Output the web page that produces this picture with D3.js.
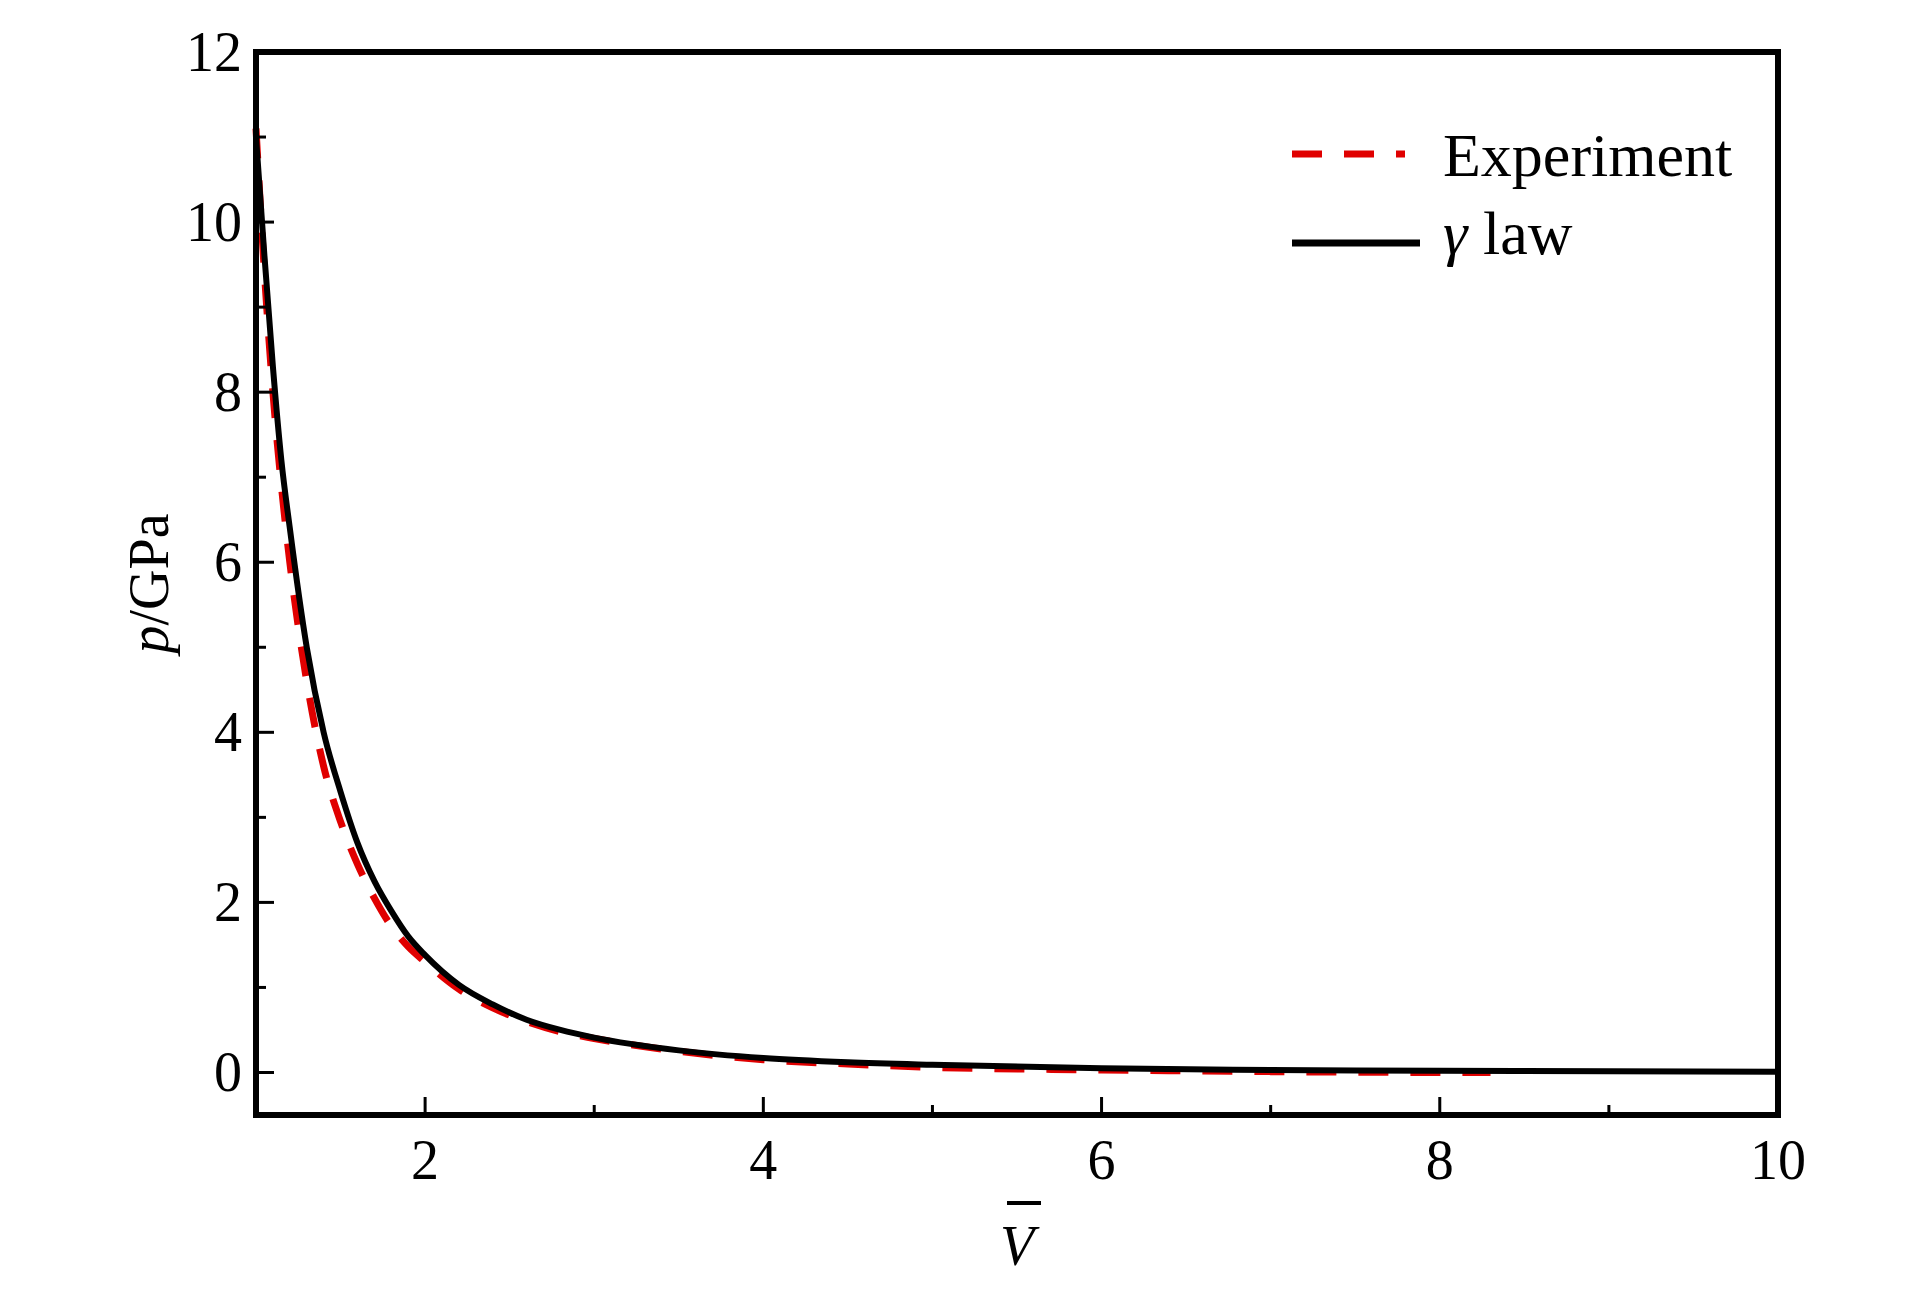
<!DOCTYPE html><html><head><script src="https://cdn.jsdelivr.net/npm/d3@7"></script>
<style>body{margin:0;background:#fff}text{font-family:"Liberation Serif","DejaVu Serif",serif}</style></head><body>
<svg id="c" width="1923" height="1299"></svg>
<script>
const gammaV=[1.0,1.05,1.1,1.15,1.2,1.3,1.4,1.5,1.6,1.7,1.8,1.9,2.0,2.2,2.4,2.6,2.8,3.0,3.5,4,4.5,5,6,7,8,9,10];
const gammaP=[11.0,9.6,8.3,7.2,6.4,5.0,4.0,3.3,2.7,2.25,1.9,1.6,1.38,1.03,0.8,0.62,0.5,0.41,0.26,0.17,0.12,0.09,0.05,0.03,0.02,0.015,0.01];
const expV=[1.0,1.05,1.1,1.15,1.2,1.3,1.4,1.5,1.6,1.7,1.8,1.9,2.0,2.2,2.4,2.6,2.8,3.0,3.5,4,4.5,5,6,7,8,8.3];
const expP=[11.1,9.4,8.0,6.9,6.0,4.6,3.6,2.95,2.45,2.05,1.72,1.48,1.3,0.98,0.76,0.6,0.48,0.4,0.25,0.15,0.1,0.06,0.03,0.01,0.0,0.0];
const xTicks=[2,4,6,8,10], xMinor=[3,5,7,9], yTicks=[0,2,4,6,8,10,12], yMinor=[1,3,5,7,9,11];
const L=256,R=1778,T=52,B=1115;
const svg=d3.select("#c");
const x=d3.scaleLinear().domain([1,10]).range([L,R]);
const y=d3.scaleLinear().domain([-0.5,12]).range([B,T]);
const fs=56;
const g=svg.append("g");
const line=d3.line().x(d=>x(d[0])).y(d=>y(d[1])).curve(d3.curveMonotoneX);
g.append("path").attr("d",line(expV.map((v,i)=>[v,expP[i]]))).attr("fill","none").attr("stroke","#e00000").attr("stroke-width",7).attr("stroke-dasharray","30,22");
g.append("path").attr("d",line(gammaV.map((v,i)=>[v,gammaP[i]]))).attr("fill","none").attr("stroke","#000").attr("stroke-width",6);
xTicks.forEach(t=>{svg.append("line").attr("x1",x(t)).attr("x2",x(t)).attr("y1",B).attr("y2",B-18).attr("stroke","#000").attr("stroke-width",3);
 svg.append("text").attr("x",x(t)).attr("y",B+64).attr("text-anchor","middle").attr("font-size",fs).text(t);});
xMinor.forEach(t=>svg.append("line").attr("x1",x(t)).attr("x2",x(t)).attr("y1",B).attr("y2",B-10).attr("stroke","#000").attr("stroke-width",3));
yTicks.forEach(t=>{svg.append("line").attr("x1",L).attr("x2",L+18).attr("y1",y(t)).attr("y2",y(t)).attr("stroke","#000").attr("stroke-width",3);
 svg.append("text").attr("x",L-14).attr("y",y(t)+19).attr("text-anchor","end").attr("font-size",fs).text(t);});
yMinor.forEach(t=>svg.append("line").attr("x1",L).attr("x2",L+10).attr("y1",y(t)).attr("y2",y(t)).attr("stroke","#000").attr("stroke-width",3));
svg.append("rect").attr("x",L).attr("y",T).attr("width",R-L).attr("height",B-T).attr("fill","none").attr("stroke","#000").attr("stroke-width",6);
svg.append("text").attr("transform",`translate(168,${(T+B)/2}) rotate(-90)`).attr("text-anchor","middle").attr("font-size",fs)
 .html('<tspan font-style="italic">p</tspan>/GPa');
svg.append("text").attr("x",(L+R)/2).attr("y",1265).attr("text-anchor","middle").attr("font-size",fs).attr("font-style","italic").text("V");
svg.append("line").attr("x1",(L+R)/2-10).attr("x2",(L+R)/2+24).attr("y1",1203).attr("y2",1203).attr("stroke","#000").attr("stroke-width",4);
svg.append("line").attr("x1",1292).attr("x2",1405).attr("y1",154).attr("y2",154).attr("stroke","#e00000").attr("stroke-width",7).attr("stroke-dasharray","30,22");
svg.append("text").attr("x",1443).attr("y",176).attr("font-size",62).text("Experiment");
svg.append("line").attr("x1",1292).attr("x2",1420).attr("y1",243).attr("y2",243).attr("stroke","#000").attr("stroke-width",7);
svg.append("text").attr("x",1443).attr("y",254).attr("font-size",62).html('<tspan font-style="italic">γ</tspan> law');
</script></body></html>
